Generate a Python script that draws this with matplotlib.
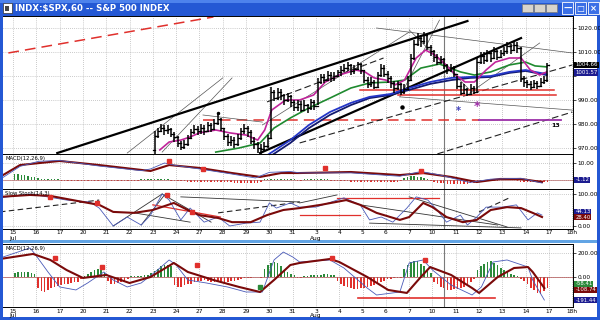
import matplotlib
matplotlib.use("Agg")
import matplotlib.pyplot as plt
from matplotlib.patches import Rectangle

W, H = 600, 320

# x axis: one unit = one trading day (7 hourly bars), day 0 = Jul 15
day_labels = ["15", "16", "17", "20", "21", "22", "23", "24", "27", "28", "29", "30", "31",
              "3", "4", "5", "6", "7", "10", "11", "12", "13", "14", "17", "18h"]
month_labels = [("Jul", 0), ("Aug", 13)]

# hourly bars from Jul 23 (day 6) to Aug 14 (day 22)
first_day = 6
close_ = [975.0, 977.0, 978.5, 977.5, 978.0, 976.0, 974.5,
          972.0, 970.5, 971.5, 974.0, 976.5, 978.0, 977.0,
          978.5, 977.0, 979.5, 978.0, 980.5, 982.0, 978.5,
          975.0, 972.5, 973.5, 971.5, 974.0, 977.0, 978.5,
          976.5, 973.0, 971.5, 970.0, 969.5, 971.0, 974.0,
          993.5, 991.0, 993.5, 992.0, 990.0, 991.5, 989.0,
          987.0, 988.5, 986.0, 988.0, 986.5, 989.0, 987.5,
          997.5, 999.5, 998.5, 1000.5, 999.0, 1000.0, 1001.5,
          1002.5, 1003.5, 1004.5, 1002.0, 1003.0, 1005.0, 1002.5,
          998.5, 996.5, 997.5, 995.5, 1000.5, 1003.5, 1001.0,
          999.0, 997.0, 995.0, 996.5, 993.5, 994.5, 998.5,
          1007.5, 1013.5, 1016.0, 1014.5, 1017.0, 1012.0, 1010.5,
          1008.0, 1006.0, 1007.0, 1004.5, 1002.5, 1003.5, 1001.0,
          996.0, 993.0, 994.5, 992.5, 995.0, 993.5, 1006.0,
          1008.5, 1006.5, 1009.5, 1007.5, 1010.5, 1008.0, 1009.5,
          1010.5, 1012.5, 1011.0, 1013.0, 1011.5, 999.0, 997.5,
          996.5, 995.5, 997.0, 996.0, 997.5, 998.5, 1004.66]
high_ = [977, 978.5, 980, 979.5, 979.5, 978.5, 976.5,
         975, 973, 973.5, 975.5, 978, 979.5, 979,
         980, 979.5, 981, 980.5, 982, 984, 982.5,
         978.5, 976, 975, 974.5, 976, 978.5, 980,
         979, 977.5, 974.5, 972.5, 971.5, 972.5, 975.5,
         995.5, 994, 995, 994.5, 992.5, 993, 992,
         990, 990, 989.5, 990, 988.5, 990.5, 990,
         999, 1001, 1001, 1002, 1001.5, 1001.5, 1002.5,
         1004, 1005, 1006, 1005, 1004.5, 1006, 1005.5,
         1002, 999.5, 999.5, 998.5, 1001.5, 1005, 1004.5,
         1002, 1000, 998, 998, 997, 996.5, 1000,
         1009, 1015, 1018, 1017, 1018.5, 1017, 1013,
         1011, 1009, 1008.5, 1007.5, 1005, 1005, 1004,
         1000, 997.5, 996.5, 995, 996.5, 996, 1007.5,
         1010, 1010, 1011, 1010.5, 1012, 1011, 1011,
         1012, 1014, 1013.5, 1014.5, 1014, 1012, 1000,
         998.5, 998, 998.5, 998, 999, 1000, 1005.5]
low_ = [962, 974, 976.5, 975.5, 976, 974.5, 972.5,
        970.5, 969, 969.5, 971, 974, 976, 975.5,
        976, 975.5, 977, 976.5, 978, 979.5, 977,
        973.5, 971, 971, 970, 971, 973.5, 976,
        974.5, 971.5, 969.5, 968, 967.5, 968.5, 970,
        974, 989.5, 990, 990, 988, 989, 987,
        985.5, 985.5, 985, 985.5, 984.5, 986, 986,
        988, 996.5, 997, 998, 997.5, 998, 999.5,
        1000, 1001.5, 1002, 1000.5, 1001, 1002.5, 1001,
        997, 995, 995.5, 994.5, 995.5, 999.5, 999.5,
        997, 995, 993, 994, 992, 992.5, 994,
        998.5, 1006.5, 1012.5, 1012, 1013.5, 1011, 1008.5,
        1006, 1004.5, 1005, 1003, 1001, 1001.5, 999.5,
        994.5, 992, 992.5, 991.5, 992, 992.5, 993,
        1005, 1005, 1006, 1006, 1007, 1006.5, 1007.5,
        1008.5, 1009, 1009, 1010.5, 1009.5, 997.5, 995.5,
        995, 994, 995, 994.5, 995.5, 996.5, 997.5]

# moving averages as (day, price)
ma_magenta = [(6.3, 969.2), (6.7, 972.5), (7.2, 973.3), (7.6, 974.6), (8.0, 976.3), (8.7, 977.5),
              (9.3, 976.3), (10.0, 975.4), (10.5, 973.3), (10.8, 977.5), (11.1, 985.8), (11.7, 990.0),
              (12.3, 990.0), (12.9, 992.1), (13.4, 997.5), (14.0, 1000.4), (14.7, 1002.5), (15.1, 1001.7),
              (15.5, 999.2), (16.0, 998.3), (16.4, 996.3), (16.8, 998.3), (17.3, 1007.5), (17.7, 1010.8),
              (18.1, 1008.8), (18.5, 1005.4), (19.0, 1000.4), (19.4, 997.5), (19.8, 997.5), (20.3, 1002.5),
              (20.7, 1005.8), (21.3, 1007.5), (21.8, 1007.5), (22.2, 1002.5), (22.6, 1000.4), (22.9, 1001.7)]
ma_green = [(8.7, 968.3), (9.7, 970.0), (10.6, 972.1), (11.2, 978.3), (11.9, 982.5), (12.7, 986.7),
            (13.6, 990.8), (14.5, 995.0), (15.3, 997.1), (16.2, 997.5), (16.8, 998.3), (17.5, 1003.3),
            (18.3, 1005.0), (19.2, 1001.7), (19.8, 1000.4), (20.5, 1001.7), (21.3, 1004.6), (22.0, 1005.8),
            (22.4, 1004.2), (22.9, 1003.8)]
ma_blue = [(10.8, 966.3), (11.9, 973.3), (12.7, 979.6), (13.6, 985.0), (14.5, 988.8), (15.3, 991.3),
           (16.2, 992.5), (17.0, 995.0), (17.9, 997.5), (18.8, 999.2), (19.6, 999.6), (20.5, 1000.0),
           (21.3, 1001.7), (22.0, 1002.5), (22.4, 1001.7), (22.9, 1000.8)]
ma_navy = [(11.0, 966.3), (11.9, 972.1), (12.7, 978.3), (13.6, 983.8), (14.5, 987.9), (15.3, 990.8),
           (16.2, 992.1), (17.0, 994.2), (17.9, 996.7), (18.8, 998.3), (19.6, 999.2), (20.5, 999.6),
           (21.3, 1001.3), (22.0, 1002.1), (22.9, 1000.4)]

# hand-drawn lines on the price panel
thick_lines = [((1.9, 967.9), (19.5, 1022.9)), ((10.6, 967.9), (21.8, 1015.8))]
thin_lines = [((4.9, 967.9), (9.0, 999.2)), ((6.4, 968.3), (9.4, 999.2)),
              ((10.7, 979.6), (17.0, 1018.3)), ((16.6, 991.3), (18.3, 1023.3)),
              ((17.0, 1019.2), (19.6, 994.2)), ((19.6, 992.9), (22.6, 1013.75)),
              ((8.15, 983.75), (10.7, 980.8)), ((15.6, 1020.0), (24.0, 1009.6)),
              ((16.6, 991.3), (24.0, 985.8))]
dashed_lines = [((12.3, 972.1), (24.0, 1004.6)), ((17.8, 966.3), (24.0, 985.0)),
                ((10.9, 989.2), (15.9, 1007.5))]
red_dashed = [((-0.2, 1009.6), (8.6, 1024.6)), ((8.15, 981.5), (20.0, 981.5))]
red_solid = [((14.9, 994.2), (23.2, 994.2)), ((16.5, 992.1), (23.3, 992.1))]
purple_solid = [((20.0, 981.5), (23.5, 981.5))]

# MACD(12,26,9) panel
macd_signal = [(-0.43, 2.9), (0.3, 8.8), (2.0, 11.2), (3.7, 8.8), (5.9, 5.3), (6.7, 8.8), (8.0, 7.1),
               (9.4, 4.1), (10.6, 1.8), (11.5, 4.1), (12.3, 4.1), (14.5, 4.7), (16.6, 2.9), (17.6, 4.1),
               (18.8, 1.8), (19.9, -1.2), (20.9, 0.6), (21.8, 0.6), (22.7, -1.2)]
macd_line = [(-0.43, 1.5), (0.3, 8.0), (1.1, 11.0), (2.0, 11.5), (3.7, 8.2), (5.5, 5.5), (5.9, 6.5),
             (6.5, 10.0), (7.0, 8.5), (8.0, 6.5), (9.4, 3.5), (10.4, 1.2), (11.0, 4.5), (11.9, 5.0),
             (12.3, 4.2), (14.5, 4.2), (16.6, 2.2), (17.5, 5.0), (18.3, 3.0), (19.6, -1.5), (20.5, 0.5),
             (21.8, 1.0), (22.7, -1.8)]
macd_hist = [3.5, 3.5, 3.0, 3.0, 2.5, 2.0, 1.5,
             1.0, 0.6, 0.4, 0.3, 0.3, 0.3, 0.3,
             -0.4, -0.5, -0.5, -0.5, -0.5, -0.5, -0.5,
             -0.5, -0.5, -0.6, -0.6, -0.6, -0.6, -0.6,
             -0.6, -0.6, -0.6, -0.6, -0.6, -0.5, -0.5,
             -0.5, -0.4, -0.3, 0.3, 0.4, 0.5, 0.5,
             0.5, 0.6, 0.5, 0.4, 0.3, -0.4, -0.6,
             -0.7, -0.8, -0.8, -0.9, -0.9, -1.0, -1.0,
             -1.0, -1.1, -1.1, -1.2, -1.2, -1.3, -1.3,
             -1.3, -1.4, -1.4, -1.5, -1.5, -1.6, -1.6,
             -1.7, -1.8, -1.8, -1.6, -1.4, 0.3, 0.5,
             0.6, 0.6, 0.6, 0.5, 0.5, 0.4, 0.3,
             0.3, -0.3, -0.3, 0.3, 0.4, 0.4, 0.4,
             0.4, 0.4, 0.3, 0.3, -0.5, -0.6, -0.7,
             -0.7, -0.8, -0.8, -0.9, -0.9, -1.0, -1.0,
             -1.0, -1.1, -1.1, -1.1, -1.2, -1.2, -1.2,
             -1.2, -1.1, -1.1, -1.0, -0.8, 1.2, 1.8,
             2.2, 2.3, 2.0, 1.6, 1.2, 0.6, -0.6,
             -1.2, -1.5, -1.8, -2.0, -2.2, -2.3, -2.4,
             -2.5, -2.5, -2.3, -2.2, -2.0, -1.8, -1.2,
             -0.8, -0.6, -0.5, -0.4, -0.3, -0.3, -0.2,
             0.3, 0.4, 0.4, 0.3, -0.5, -0.9, -1.2,
             -1.3, -1.4, -1.4, -1.3, -1.3, -1.2, -1.1]
macd_marks = [(6.7, 11.0), (8.15, 6.5), (13.4, 7.0), (17.5, 5.3)]

# stochastic panel
sto_d = [(-0.56, 91), (0.73, 97), (1.6, 94), (3.0, 75), (3.7, 66), (4.3, 44), (5.2, 41), (6.0, 50),
         (6.9, 72), (7.5, 50), (8.0, 34), (8.8, 25), (9.4, 12), (10.2, 12), (10.9, 34), (11.6, 50),
         (12.3, 56), (13.2, 66), (14.3, 81), (14.9, 66), (15.6, 41), (16.6, 19), (17.0, 28), (17.6, 72),
         (18.0, 59), (18.6, 28), (19.3, 12), (19.9, 19), (20.5, 50), (21.2, 59), (21.8, 56), (22.3, 41),
         (22.7, 28)]
sto_k = [(-0.56, 88), (0.73, 100), (2.3, 81), (3.3, 75), (3.7, 56), (4.3, 0), (4.9, 28), (5.5, 3),
         (5.9, 34), (6.4, 100), (6.7, 81), (7.2, 19), (7.6, 56), (8.2, 12), (8.8, 28), (9.3, 0),
         (10.0, 9), (10.6, 12), (11.0, 72), (11.3, 56), (11.9, 72), (12.3, 59), (13.0, 59), (14.2, 88),
         (14.9, 66), (15.3, 19), (15.8, 28), (16.3, 12), (16.9, 56), (17.3, 91), (17.8, 81), (18.2, 50),
         (18.6, 12), (19.2, 34), (19.5, 3), (19.9, 28), (20.3, 59), (21.0, 59), (21.6, 66), (22.1, 19),
         (22.5, 41), (22.7, 34)]
sto_black = [((7.2, 91), (12.3, 75)), ((4.3, 0), (6.4, 100)), ((5.5, 3), (6.5, 97)),
             ((5.2, 41), (7.6, 12)), ((6.4, 100), (8.5, 12)), ((12.3, 72), (13.9, 97)),
             ((14.9, 66), (20.8, 3)), ((17.0, 91), (21.2, -3)), ((15.3, 9), (21.8, -6))]
sto_dashed = [((-0.56, 44), (3.7, 81)), ((8.8, 41), (12.3, 75)), ((20.0, 44), (21.3, 88))]
sto_red = [((13.9, 88), (18.3, 88)), ((12.3, 34), (14.9, 34)), ((6.0, 66), (8.9, 28))]
sto_marks = [(1.6, 91), (3.6, 72), (6.6, 97), (7.7, 44)]

# lower MACD window
mom_signal = [(-0.56, 150), (0.86, 192), (1.6, 142), (2.3, 58), (3.0, -8), (4.0, 17), (5.0, -50),
              (5.9, 0), (6.9, 117), (7.5, 42), (8.6, -25), (9.7, -83), (10.6, -125), (11.2, -25),
              (11.9, 100), (12.3, 117), (13.6, 150), (14.0, 125), (15.2, 0), (16.1, -108), (16.9, -133),
              (17.5, 0), (17.9, 83), (18.8, 17), (19.7, -92), (20.0, -133), (20.8, 0), (21.5, 75),
              (22.1, 83), (22.3, 42), (22.8, -92)]
mom_line = [(-0.56, 158), (0.73, 242), (0.94, 192), (1.5, 42), (2.0, -83), (2.7, -108), (3.2, -50),
            (3.9, 42), (4.3, -25), (4.9, -83), (5.5, -50), (6.2, 58), (6.7, 142), (7.0, 100), (7.5, -25),
            (8.3, -50), (9.2, -83), (10.0, -125), (10.7, -125), (11.2, 142), (11.6, 208), (12.0, 167),
            (12.3, 125), (13.6, 142), (14.2, 75), (15.2, -92), (15.6, -150), (16.6, -125), (17.0, 117),
            (17.6, 142), (18.0, 58), (18.8, -67), (19.7, -150), (20.1, -83), (20.6, 125), (21.2, 142),
            (22.1, 83), (22.3, -25), (22.8, -192)]
mom_hist = [35, 40, 40, 42, 40, 35, 25,
            -90, -120, -125, -110, -95, -85, -75,
            -70, -60, -55, -50, -45, -40, -15,
            10, 25, 45, 55, 65, 60, 30,
            -30, -55, -60, -50, -40, -30, -15,
            5, 8, 10, 12, 15, 20, 30,
            50, 70, 90, 100, 100, 95, -70,
            -85, -80, -70, -60, -55, -45, -35,
            -30, -25, -30, -40, -45, -40, -35,
            -40, -40, -35, -30, -25, -20, -12,
            -8, -5, -3, -2, -5, 70, 100,
            120, 125, 115, 90, 60, 40, 25,
            15, -8, -5, 8, 10, 15, 15,
            20, 20, 25, 25, 20, 15, -30,
            -60, -75, -85, -95, -100, -100, -95,
            -95, -85, -75, -65, -50, -40, -30,
            -20, -15, -12, -10, -8, 70, 100,
            125, 135, 130, 110, 90, 60, 30,
            -40, -60, -80, -95, -105, -110, -100,
            -100, -95, -80, -60, -40, -20, 60,
            90, 110, 125, 130, 120, 100, 75,
            55, 40, 25, 15, 10, -15, -30,
            -60, -90, -110, -130, -140, -120, -95]
mom_red_marks = [(1.8, 158), (3.8, 83), (7.9, 100), (13.7, 158), (17.7, 142)]
mom_green_marks = [(10.6, -83)]

XMIN, XMAX = -0.43, 24.03
RED = "#e0302c"
DKRED = "#7a0a0a"
GREEN = "#2b8a3a"
FRAME = "#2458d4"


def px_rect(x0, y0, x1, y1):
    return [x0 / W, 1 - y1 / H, (x1 - x0) / W, (y1 - y0) / H]


def xy(points):
    return [p[0] for p in points], [p[1] for p in points]


def seg(ax, lines, **kw):
    for (a, b) in lines:
        ax.plot([a[0], b[0]], [a[1], b[1]], **kw)


def setup(ax, ylim, yticks, ylabels):
    ax.set_facecolor("white")
    ax.set_xlim(XMIN, XMAX)
    ax.set_ylim(*ylim)
    ax.set_xticks(range(25))
    ax.set_xticklabels([])
    ax.tick_params(axis="x", length=0)
    ax.yaxis.tick_right()
    ax.set_yticks(yticks)
    ax.set_yticklabels(ylabels, fontsize=4.2)
    ax.tick_params(axis="y", length=2, width=0.5, pad=1)
    ax.grid(True, ls=(0, (1, 2)), color="#9a9a9a", lw=0.5)
    ax.spines["left"].set_visible(False)
    for s in ("top", "bottom", "right"):
        ax.spines[s].set_linewidth(0.7)
    ax.axvline(18.5, color="#7a7a7a", lw=0.8)


def box(ax, val, text, fc):
    ax.text(1.004, val, text, transform=ax.get_yaxis_transform(), fontsize=3.9, color="white",
            va="center", ha="left", clip_on=False,
            bbox=dict(boxstyle="square,pad=0.15", fc=fc, ec="none"))


def dates(ax, y_day, y_month):
    tr = ax.get_xaxis_transform()
    for d, lab in enumerate(day_labels):
        ax.text(d, y_day, lab, transform=tr, fontsize=4.2, ha="center", va="top", clip_on=False)
    for lab, d in month_labels:
        ax.text(d, y_month, lab, transform=tr, fontsize=4.2, ha="center", va="top", clip_on=False)


def hist(ax, values, up, down, width):
    xs = [(i + 0.5) / 7 for i in range(len(values))]
    cols = [up if v >= 0 else down for v in values]
    ax.bar(xs, values, width=width, color=cols, linewidth=0)


fig = plt.figure(figsize=(6, 3.2), dpi=100)

# window chrome
bg = fig.add_axes([0, 0, 1, 1])
bg.set_xlim(0, W)
bg.set_ylim(H, 0)
bg.axis("off")
bg.add_patch(Rectangle((0, 0), W, H, fc="white", ec="none"))
bg.add_patch(Rectangle((0, 0), W, 16, fc=FRAME, ec="none"))
bg.add_patch(Rectangle((0, 0), W, 3, fc="#4d82ec", ec="none"))
bg.add_patch(Rectangle((0, 16), 3, H - 16, fc=FRAME, ec="none"))
bg.add_patch(Rectangle((597, 16), 3, H - 16, fc=FRAME, ec="none"))
bg.add_patch(Rectangle((0, 317), W, 3, fc=FRAME, ec="none"))
bg.add_patch(Rectangle((3, 240), 594, 3, fc="#62a4e4", ec="none"))
bg.add_patch(Rectangle((3, 3), 9, 10, fc="white", ec="#333333", lw=0.5))
bg.add_patch(Rectangle((5, 6), 4, 5, fc="#444444", ec="none"))
bg.text(15, 8.5, r"INDX:\$SPX,60 -- S&P 500 INDEX", color="white", fontsize=6.2,
        fontweight="bold", va="center", ha="left")
for bx in (522, 534, 546):
    bg.add_patch(Rectangle((bx, 4), 11, 8, fc="#d8d4cc", ec="#7a7a7a", lw=0.5))
for bx, sym in ((562, "\u2014"), (575, "\u25a1"), (588, "\u00d7")):
    bg.add_patch(Rectangle((bx, 2), 11, 12, fc="#3a6fe6", ec="white", lw=0.6))
    bg.text(bx + 5.5, 8.5, sym, color="white", fontsize=6, ha="center", va="center", fontweight="bold")

# price panel
ax = fig.add_axes(px_rect(3, 16, 573, 154))
setup(ax, (967.5, 1025), [970, 980, 990, 1000, 1010, 1020],
      ["970.00", "980.00", "990.00", "", "1010.00", "1020.00"])
seg(ax, red_dashed, color=RED, lw=1.1, dashes=(7, 4))
seg(ax, thin_lines, color="#555555", lw=0.5)
seg(ax, dashed_lines, color="#222222", lw=0.8, dashes=(6, 3))
seg(ax, thick_lines, color="black", lw=1.6)
seg(ax, red_solid, color=RED, lw=1.1)
seg(ax, purple_solid, color="#9b2fa8", lw=1.3)
ax.plot(*xy(ma_navy), color="#131a6e", lw=1.3)
ax.plot(*xy(ma_blue), color="#2436c8", lw=1.3)
ax.plot(*xy(ma_green), color="#1f8a2f", lw=1.2)
ax.plot(*xy(ma_magenta), color="#c0249a", lw=1.2)
prev = close_[0] - 6
for i, (c, hi, lo) in enumerate(zip(close_, high_, low_)):
    x = first_day + (i + 0.5) / 7
    ax.plot([x, x], [lo, hi], color="black", lw=1.1, solid_capstyle="butt")
    ax.plot([x - 0.06, x], [prev, prev], color="black", lw=0.9)
    ax.plot([x, x + 0.06], [c, c], color="black", lw=0.9)
    prev = c
ax.plot([8.8], [984.6], "o", color="black", ms=1.5)
ax.plot([16.7], [987.1], "o", color="black", ms=2.2)
ax.text(19.1, 985.4, "*", color="#3a3ab8", fontsize=7, ha="center", va="center", fontweight="bold")
ax.text(19.9, 987.1, "*", color="#a02fa8", fontsize=9, ha="center", va="center", fontweight="bold")
ax.text(23.3, 979.2, "13", color="black", fontsize=4.5, ha="center", va="center", fontweight="bold")
box(ax, 1004.66, "1004.66", "black")
box(ax, 1001.57, "1001.57", "#1c1c90")

# MACD panel
ax2 = fig.add_axes(px_rect(3, 154, 573, 189))
setup(ax2, (-5.3, 15.3), [0, 10], ["", "10.00"])
ax2.axhline(0, color="#b05050", lw=0.4)
hist(ax2, macd_hist, GREEN, RED, 0.06)
ax2.plot(*xy(macd_signal), color=DKRED, lw=1.5)
ax2.plot(*xy(macd_line), color="#4a5ab8", lw=0.6)
for d, v in macd_marks:
    ax2.plot([d], [v], "s", color=RED, ms=2.3)
ax2.text(0.004, 0.93, "MACD(12,26,9)", transform=ax2.transAxes, fontsize=3.8, va="top")
box(ax2, 0, "-1.12", "#1c1c90")

# stochastic panel
ax3 = fig.add_axes(px_rect(3, 189, 573, 229))
setup(ax3, (-9.4, 115.6), [0, 100], ["0.00", "100.00"])
seg(ax3, sto_black, color="#333333", lw=0.6)
seg(ax3, sto_dashed, color="#222222", lw=0.8, dashes=(5, 3))
seg(ax3, sto_red, color=RED, lw=0.9)
ax3.plot(*xy(sto_k), color="#4a5ab8", lw=0.6)
ax3.plot(*xy(sto_d), color=DKRED, lw=1.5)
for d, v in sto_marks:
    ax3.plot([d], [v], "s", color=RED, ms=2.3)
ax3.text(0.004, 0.95, "Slow Stoch(14,3)", transform=ax3.transAxes, fontsize=3.8, va="top")
box(ax3, 44, "44.13", "#1c1c90")
box(ax3, 28, "28.40", DKRED)
dates(ax3, -0.03, -0.17)

# lower MACD window
ax4 = fig.add_axes(px_rect(3, 244, 573, 307))
setup(ax4, (-250, 275), [0, 200], ["0.00", "200.00"])
ax4.axhline(0, color="#b05050", lw=0.5)
hist(ax4, mom_hist, GREEN, RED, 0.07)
ax4.plot([14.8, 20.7], [-175, -175], color=RED, lw=1.2)
ax4.plot(*xy(mom_line), color="#4a5ab8", lw=0.6)
ax4.plot(*xy(mom_signal), color=DKRED, lw=1.5)
for d, v in mom_red_marks:
    ax4.plot([d], [v], "s", color=RED, ms=2.3)
for d, v in mom_green_marks:
    ax4.plot([d], [v], "s", color=GREEN, ms=2.3)
ax4.text(0.004, 0.97, "MACD(12,26,9)", transform=ax4.transAxes, fontsize=3.8, va="top")
box(ax4, -58, "-58.41", GREEN)
box(ax4, -108, "-108.74", DKRED)
box(ax4, -192, "-191.44", "#1c1c90")
dates(ax4, -0.03, -0.1)

fig.savefig("out.png", dpi=100)
